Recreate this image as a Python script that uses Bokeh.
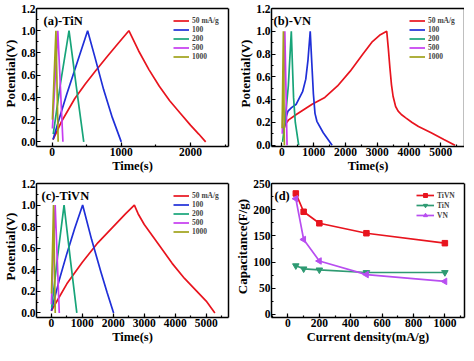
import numpy as np
from bokeh.plotting import figure
from bokeh.layouts import gridplot
from bokeh.models import (Range1d, SingleIntervalTicker, FixedTicker, PrintfTickFormatter,
                          Label, LinearAxis, Span)
from bokeh.embed import file_html
from bokeh.resources import INLINE

FONT = "Liberation Serif"
RED = "#e8141e"
BLUE = "#1f2fd8"
GREEN = "#17a479"
PURPLE = "#c63cf0"
OLIVE = "#a0a21a"

rate_labels = ["50 mA/g", "100", "200", "500", "1000"]

# ---------------- (a) TiN ----------------
tin_50_t = [14, 143, 329, 480, 630, 800, 960, 1110, 1250, 1400, 1550, 1700, 1850, 2000, 2120, 2220]
tin_50_v = [0.02, 0.19, 0.39, 0.52, 0.64, 0.77, 0.89, 1.00, 0.82, 0.65, 0.50, 0.37, 0.26, 0.15, 0.07, 0.00]
tin_100_t = [14, 100, 213, 350, 514, 620, 745, 870, 1000]
tin_100_v = [0.02, 0.20, 0.43, 0.69, 1.00, 0.76, 0.47, 0.22, 0.00]
tin_200_t = [17, 120, 245, 350, 458]
tin_200_v = [0.07, 0.52, 1.00, 0.50, 0.00]
tin_500_t = [5, 83, 157]
tin_500_v = [0.12, 1.00, 0.00]
tin_1000_t = [5, 56, 88]
tin_1000_v = [0.20, 1.00, 0.00]

# ---------------- (b) VN ----------------
vn_50_t = [40, 100, 200, 450, 950, 1350, 1750, 2150, 2550, 2850, 3100, 3300,
           3350, 3400, 3450, 3500, 3580, 3660, 3760, 3900, 4100, 4300, 4700, 5100, 5450]
vn_50_v = [0.12, 0.18, 0.22, 0.27, 0.36, 0.42, 0.52, 0.65, 0.80, 0.91, 0.97, 1.00,
           0.85, 0.68, 0.53, 0.43, 0.34, 0.30, 0.27, 0.24, 0.20, 0.165, 0.11, 0.05, 0.00]
vn_100_t = [50, 100, 190, 300, 450, 650, 750, 820, 890, 940, 990, 1040, 1100, 1300, 1580]
vn_100_v = [0.12, 0.22, 0.30, 0.33, 0.36, 0.47, 0.58, 0.75, 1.00, 0.72, 0.45, 0.28, 0.21, 0.11, 0.00]
vn_200_t = [20, 100, 200, 294, 330, 365, 420, 526]
vn_200_v = [0.03, 0.22, 0.52, 1.00, 0.70, 0.42, 0.20, 0.00]
vn_500_t = [10, 90, 160]
vn_500_v = [0.10, 1.00, 0.00]
vn_1000_t = [5, 45, 75]
vn_1000_v = [0.15, 1.00, 0.00]

# ---------------- (c) TiVN ----------------
tivn_50_t = [0, 200, 500, 1000, 1500, 2000, 2400, 2680, 2800, 3000, 3500, 3900, 4300, 4700, 5000, 5280]
tivn_50_v = [0.02, 0.12, 0.27, 0.47, 0.65, 0.80, 0.92, 1.00, 0.92, 0.82, 0.62, 0.46, 0.32, 0.20, 0.11, 0.00]
tivn_100_t = [0, 250, 500, 750, 1010, 1300, 1600, 1800, 2010]
tivn_100_v = [0.02, 0.30, 0.55, 0.78, 1.00, 0.68, 0.38, 0.19, 0.00]
tivn_200_t = [10, 200, 410, 620, 822]
tivn_200_v = [0.05, 0.52, 1.00, 0.48, 0.00]
tivn_500_t = [0, 123, 256]
tivn_500_v = [0.08, 1.00, 0.00]
tivn_1000_t = [5, 70, 125]
tivn_1000_v = [0.18, 1.00, 0.00]

# ---------------- (d) capacitance ----------------
cd_x = [50, 100, 200, 500, 1000]
cap_tivn = [231, 196, 174, 155, 136]
cap_tin = [93, 87, 85, 80, 80]
cap_vn = [221, 143, 102, 76, 63]

HEAD = 8  # px of room above the top tick so its label is drawn


def style(p, xlab, ylab, xint, yint, y_lo, y_top):
    p.xgrid.visible = False
    p.ygrid.visible = False
    p.outline_line_color = None
    p.xaxis.axis_label = xlab
    p.yaxis.axis_label = ylab
    p.xaxis.ticker = SingleIntervalTicker(interval=xint, num_minor_ticks=2)
    p.yaxis.ticker = SingleIntervalTicker(interval=yint, num_minor_ticks=2)
    p.yaxis.bounds = (y_lo, y_top)
    for ax in (p.xaxis[0], p.yaxis[0]):
        ax.axis_line_width = 1.5
        ax.major_tick_in = 4
        ax.major_tick_out = 0
        ax.minor_tick_in = 2
        ax.minor_tick_out = 0
        ax.major_tick_line_width = 1.2
        ax.minor_tick_line_width = 1.2
        ax.major_label_text_font = FONT
        ax.major_label_text_font_style = "bold"
        ax.major_label_text_font_size = "11.5px"
        ax.major_label_text_color = "black"
        ax.axis_label_text_font = FONT
        ax.axis_label_text_font_style = "bold"
        ax.axis_label_text_color = "black"
        ax.major_label_standoff = 1
        ax.axis_label_standoff = 0
    p.xaxis.axis_label_text_font_size = "12.5px"
    p.yaxis.axis_label_text_font_size = "13px"
    # right and top edges of the box, stopping at the top tick
    rax = LinearAxis(bounds=(y_lo, y_top), ticker=FixedTicker(ticks=[]),
                     axis_line_width=1.5, major_tick_out=0, major_tick_in=0,
                     minor_tick_out=0, minor_tick_in=0, major_label_standoff=0)
    p.add_layout(rax, "right")
    p.add_layout(Span(location=y_top, dimension="width", line_color="black", line_width=1.5))


def style_legend(p, row_h, loc):
    lg = p.legend[0]
    lg.location = loc
    lg.border_line_color = None
    lg.background_fill_alpha = 0
    lg.margin = 0
    lg.padding = 2
    lg.spacing = 0
    lg.label_standoff = 3
    lg.glyph_width = 16
    lg.glyph_height = row_h
    lg.label_height = row_h
    lg.label_text_font = FONT
    lg.label_text_font_style = "bold"
    lg.label_text_font_size = "7.5px"
    lg.label_text_line_height = 1.0


def panel_label(p, text, fw, fh, dx, y_top):
    xr, yr = p.x_range, p.y_range
    ux = (xr.end - xr.start) / fw
    uy = (yr.end - yr.start) / fh
    p.add_layout(Label(x=xr.start + dx * ux, y=y_top - 5 * uy,
                       text=text, text_font=FONT, text_font_style="bold",
                       text_font_size="12.5px", text_baseline="top", text_align="left",
                       text_color="black"))


def gcd_panel(fw, fh, borders, xr, y_lo, series, label, dx):
    bl, br, bt, bb = borders
    y_top = 1.2
    y_end = y_top + (y_top - y_lo) * HEAD / (fh - HEAD)
    p = figure(frame_width=fw, frame_height=fh, x_range=Range1d(*xr), y_range=Range1d(y_lo, y_end),
               output_backend="svg", toolbar_location=None,
               min_border_left=bl, min_border_right=br, min_border_top=bt, min_border_bottom=bb)
    style(p, "Time(s)", "Potential(V)", 1000, 0.2, y_lo, y_top + 0.0005)
    p.yaxis[0].formatter = PrintfTickFormatter(format="%.1f")
    colors = [RED, BLUE, GREEN, PURPLE, OLIVE]
    for (t, v), c, lab in zip(series, colors, rate_labels):
        p.line(t, v, line_color=c, line_width=1.7, legend_label=lab)
    style_legend(p, 9, (fw - 55, fh - HEAD - 4 - 49))
    panel_label(p, label, fw, fh, dx, y_top)
    return p


pa = gcd_panel(192, 146, (31, 4, 0, 29), (-225, 2550), -0.042,
               [(tin_50_t, tin_50_v), (tin_100_t, tin_100_v), (tin_200_t, tin_200_v),
                (tin_500_t, tin_500_v), (tin_1000_t, tin_1000_v)], "(a)-TiN", 7)
pb = gcd_panel(193, 146, (35, 3, 0, 29), (-330, 5750), -0.011,
               [(vn_50_t, vn_50_v), (vn_100_t, vn_100_v), (vn_200_t, vn_200_v),
                (vn_500_t, vn_500_v), (vn_1000_t, vn_1000_v)], "(b)-VN", 2)
pc = gcd_panel(192, 142, (31, 4, 0, 28), (-480, 5720), -0.042,
               [(tivn_50_t, tivn_50_v), (tivn_100_t, tivn_100_v), (tivn_200_t, tivn_200_v),
                (tivn_500_t, tivn_500_v), (tivn_1000_t, tivn_1000_v)], "(c)-TiVN", 5)

# ---------------- panel (d) ----------------
FW_D, FH_D = 193, 142
d_lo, d_top = -6, 250
d_end = d_top + (d_top - d_lo) * HEAD / (FH_D - HEAD)
pd = figure(frame_width=FW_D, frame_height=FH_D, x_range=Range1d(-105, 1125),
            y_range=Range1d(d_lo, d_end), output_backend="svg", toolbar_location=None,
            min_border_left=35, min_border_right=3, min_border_top=0, min_border_bottom=28)
style(pd, "Current density(mA/g)", "Capacitance(F/g)", 200, 50, d_lo, d_top)
D_RED, D_GREEN, D_PURPLE = "#e8141e", "#2e9a72", "#b84ef0"
pd.line(cd_x, cap_tivn, line_color=D_RED, line_width=1.7, legend_label="TiVN")
pd.scatter(cd_x, cap_tivn, marker="square", size=5.5, color=D_RED, legend_label="TiVN")
pd.line(cd_x, cap_tin, line_color=D_GREEN, line_width=1.7, legend_label="TiN")
pd.scatter(cd_x, cap_tin, marker="inverted_triangle", size=6.5, color=D_GREEN, legend_label="TiN")
pd.line(cd_x, cap_vn, line_color=D_PURPLE, line_width=1.7, legend_label="VN")
pd.scatter(cd_x, cap_vn, marker="triangle", angle=np.pi / 2, size=6.5, color=D_PURPLE, legend_label="VN")
style_legend(pd, 10, (FW_D - 48, FH_D - HEAD - 3 - 34))
pd.legend[0].glyph_width = 18
panel_label(pd, "(d)", FW_D, FH_D, 3, d_top)

grid = gridplot([[pa, pb], [pc, pd]], toolbar_location=None)

with open("out.html", "w") as f:
    f.write(file_html(grid, INLINE))
